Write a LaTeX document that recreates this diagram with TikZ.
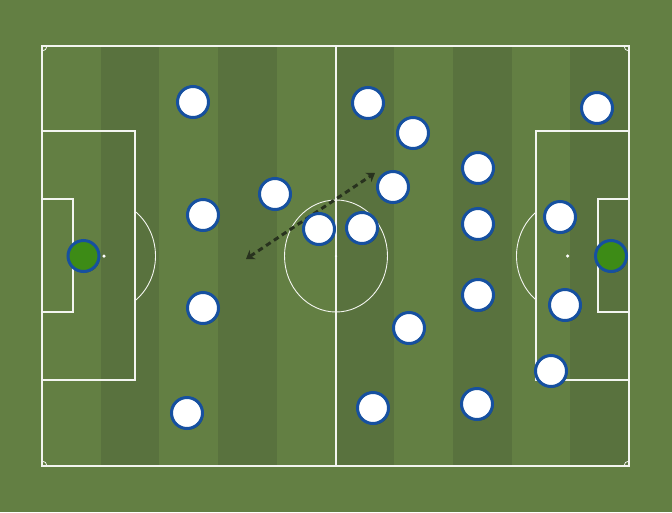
\documentclass[tikz,border=0pt]{standalone}
\usetikzlibrary{arrows.meta,shadows}
\definecolor{grass}{RGB}{99,127,67}
\definecolor{grassdark}{RGB}{89,114,62}
\definecolor{kitblue}{RGB}{22,80,160}
\definecolor{gkgreen}{RGB}{61,139,22}
\definecolor{arrowcol}{RGB}{40,50,30}
\tikzset{
  pline/.style={draw=white!92!grass, line width=1.1pt},
  player/.style={circle, draw=kitblue, line width=3pt, fill=white, minimum size=31pt, inner sep=0pt,
    drop shadow={shadow xshift=1pt, shadow yshift=-1.2pt, opacity=0.35, fill=black}},
  keeper/.style={player, fill=gkgreen},
  spot/.style={circle, fill=white, inner sep=0pt, minimum size=3.5pt},
  runarrow/.style={draw=arrowcol, line width=3pt, dash pattern=on 5.5pt off 4pt,
    {Stealth[length=8pt,width=11pt,inset=2.5pt]}-{Stealth[length=8pt,width=11pt,inset=2.5pt]}}
}
\begin{document}
\begin{tikzpicture}[x=1pt,y=-1pt]
\useasboundingbox (0,0) rectangle (672,512);
\fill[grass] (0,0) rectangle (672,512);
% stripes
\foreach \i in {1,3,5,7,9}
  \fill[grassdark] ({42+\i*58.7},46) rectangle ({42+(\i+1)*58.7},466);
% pitch markings
\draw[pline] (42,46) rectangle (629,466);
\draw[pline] (336,46) -- (336,466);
\draw[pline, line width=0.9pt] (336,256) ellipse [x radius=51.5, y radius=56];
% left
\draw[pline] (42,131) rectangle (135,380);
\draw[pline] (42,199) rectangle (73,312);
\draw[pline, line width=0.9pt] (135,211.3) arc[start angle=-53, end angle=53, x radius=51.5, y radius=56];
% right
\draw[pline] (536,131) rectangle (629,380);
\draw[pline] (598,199) rectangle (629,312);
\draw[pline, line width=0.9pt] (536,299.9) arc[start angle=128.4, end angle=231.6, x radius=51.5, y radius=56];
% corner arcs
\draw[pline, line width=0.8pt] (47,46) arc[start angle=0, end angle=90, radius=5];
\draw[pline, line width=0.8pt] (629,51) arc[start angle=90, end angle=180, radius=5];
\draw[pline, line width=0.8pt] (624,466) arc[start angle=180, end angle=270, radius=5];
\draw[pline, line width=0.8pt] (42,461) arc[start angle=270, end angle=360, radius=5];
% spots
\node[spot] (pl) at (104,256) {};
\node[spot] (pr) at (567.5,256) {};
\node[spot, minimum size=2.5pt] (cs) at (336,256) {};
% run arrow
\coordinate (runA) at (246,259);
\coordinate (runB) at (375,173);
\draw[runarrow] (runA) -- (runB);
% keepers
\node[keeper] (gkL) at (83.5,256) {};
\node[keeper] (gkR) at (611,256) {};
% players
\node[player] (p1) at (193,102) {};
\node[player] (p2) at (203,215) {};
\node[player] (p3) at (203,308) {};
\node[player] (p4) at (187,413) {};
\node[player] (p5) at (275,194) {};
\node[player] (p6) at (319,229) {};
\node[player] (p7) at (362,228) {};
\node[player] (p8) at (368,103) {};
\node[player] (p9) at (413,133) {};
\node[player] (p10) at (393,187) {};
\node[player] (p11) at (478,168) {};
\node[player] (p12) at (478,224) {};
\node[player] (p13) at (478,295) {};
\node[player] (p14) at (409,328) {};
\node[player] (p15) at (373,408) {};
\node[player] (p16) at (477,404) {};
\node[player] (p17) at (597,108) {};
\node[player] (p18) at (560,217) {};
\node[player] (p19) at (565,305) {};
\node[player] (p20) at (551,371) {};
\end{tikzpicture}
\end{document}
